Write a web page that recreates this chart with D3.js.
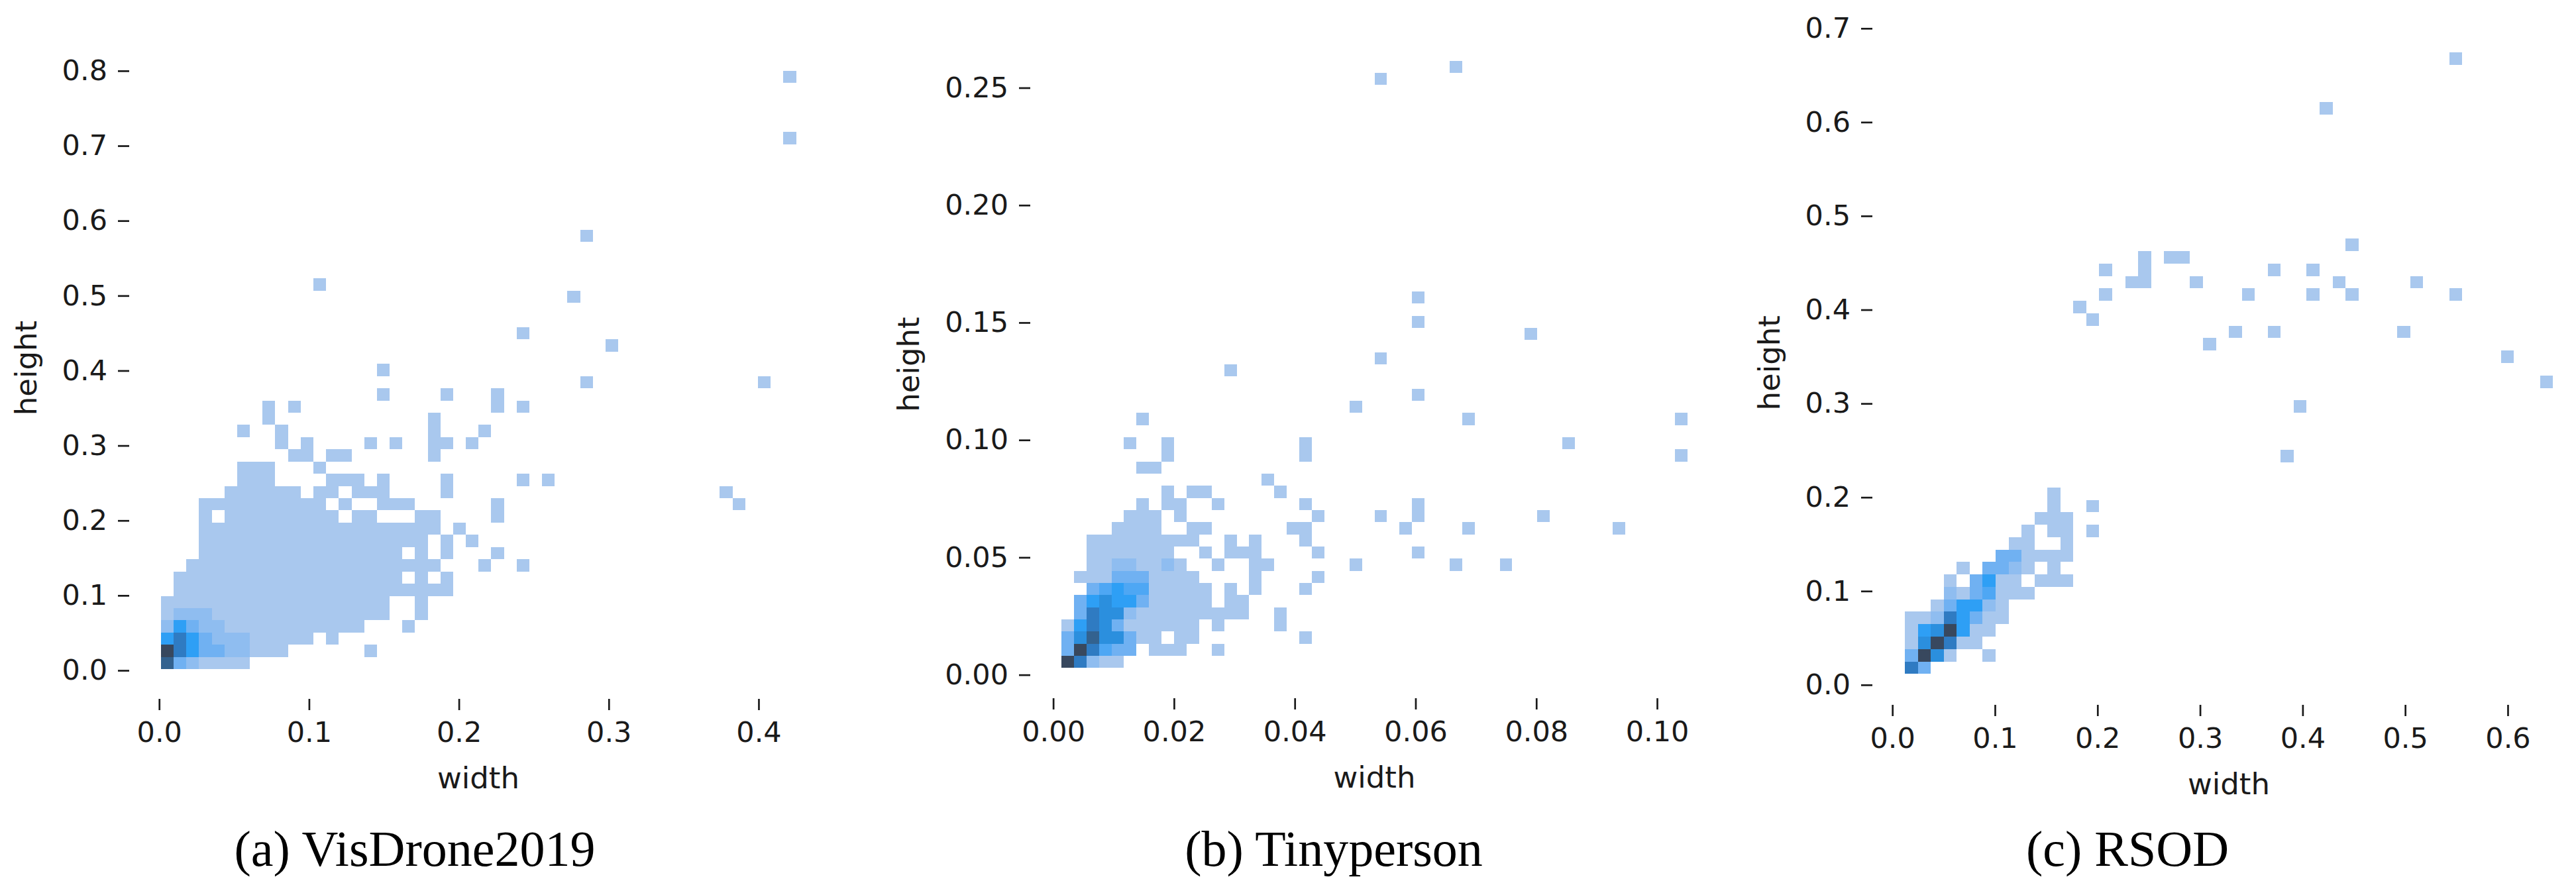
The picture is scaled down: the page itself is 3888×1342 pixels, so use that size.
<!DOCTYPE html>
<html>
<head>
<meta charset="utf-8">
<script src="https://cdn.jsdelivr.net/npm/d3@7"></script>
<style>
  body { margin: 0; background: #fff; }
  svg { display: block; }
</style>
</head>
<body>
<svg id="chart" width="3888" height="1342"></svg>
<script>
// Bivariate histograms of box width/height.
// Each cell run is [row, firstCol, levels]; '.' is an empty bin,
// 1 = fewest boxes (lightest) ... 9 = most boxes (darkest).

// (a) VisDrone2019
const visBinX = [0.0012, 0.008476];   // first edge, bin width
const visBinY = [0.0017, 0.01629];
const visCells = [
  [0, 0, "8321111"],
  [1, 0, "9753322111"], [1, 16, "1"],
  [2, 0, "575322211111"], [2, 13, "1"],
  [3, 0, "2532211111111111"], [3, 19, "1"],
  [4, 0, "122211111111111111"], [4, 20, "1"],
  [5, 0, "111111111111111111"], [5, 20, "1"],
  [6, 1, "1111111111111111111111"],
  [7, 1, "111111111111111111.1.1"],
  [8, 2, "11111111111111111111"], [8, 25, "1"], [8, 28, "1"],
  [9, 3, "1111111111111111.1.1"], [9, 26, "1"],
  [10, 3, "111111111111111111.1"], [10, 24, "1"],
  [11, 3, "1111111111111111111"], [11, 23, "1"],
  [12, 3, "1.111111111.11...11"], [12, 26, "1"],
  [13, 3, "1111111111.1..111"], [13, 26, "1"], [13, 45, "1"],
  [14, 5, "111111.11.111"], [14, 22, "1"], [14, 44, "1"],
  [15, 6, "111....111.1"], [15, 22, "1"], [15, 28, "1"], [15, 30, "1"],
  [16, 6, "111...1"],
  [17, 10, "11.11"], [17, 21, "1"],
  [18, 9, "1.1....1.1..11.1"],
  [19, 6, "1..1"], [19, 21, "1...1"],
  [20, 8, "1"], [20, 21, "1"],
  [21, 8, "1.1"], [21, 26, "1.1"],
  [22, 17, "1"], [22, 22, "1"], [22, 26, "1"],
  [23, 33, "1"], [23, 47, "1"],
  [24, 17, "1"],
  [26, 35, "1"],
  [27, 28, "1"],
  [30, 32, "1"],
  [31, 12, "1"],
  [35, 33, "1"],
  [43, 49, "1"],
  [48, 49, "1"]
];
const visXTicks = [0, 0.1, 0.2, 0.3, 0.4];
const visYTicks = [0, 0.1, 0.2, 0.3, 0.4, 0.5, 0.6, 0.7, 0.8];

// (b) Tinyperson
const tinyBinX = [0.00135, 0.002074];
const tinyBinY = [0.00296, 0.005171];
const tinyCells = [
  [0, 0, "97211"],
  [1, 0, "397433.111..1"],
  [2, 0, "36866311.11"], [2, 19, "1"],
  [3, 0, "15763111111.1"], [3, 17, "1"],
  [4, 1, "37662111111111"], [4, 17, "1"],
  [5, 1, "35655311111.11"],
  [6, 2, "3454411111.1.1"], [6, 19, "1"],
  [7, 1, "1113331111....1"], [7, 20, "1"],
  [8, 2, "11221121..1..11"], [8, 23, "1"], [8, 31, "1"], [8, 35, "1"],
  [9, 2, "1111111..1.111"], [9, 20, "1"], [9, 28, "1"],
  [10, 2, "111111111..1.1"], [10, 19, "1"],
  [11, 4, "1111..11"], [11, 18, "11"], [11, 27, "1"], [11, 32, "1"], [11, 44, "1"],
  [12, 5, "111.1"], [12, 20, "1"], [12, 25, "1"], [12, 28, "1"], [12, 38, "1"],
  [13, 6, "1.11..1"], [13, 19, "1"], [13, 28, "1"],
  [14, 8, "1.11"], [14, 17, "1"],
  [15, 16, "1"],
  [16, 6, "11"],
  [17, 8, "1"], [17, 19, "1"], [17, 49, "1"],
  [18, 5, "1..1"], [18, 19, "1"], [18, 40, "1"],
  [20, 6, "1"], [20, 32, "1"], [20, 49, "1"],
  [21, 23, "1"],
  [22, 28, "1"],
  [24, 13, "1"],
  [25, 25, "1"],
  [27, 37, "1"],
  [28, 28, "1"],
  [30, 28, "1"],
  [48, 25, "1"],
  [49, 31, "1"]
];
const tinyXTicks = [0, 0.02, 0.04, 0.06, 0.08, 0.10];
const tinyYTicks = [0, 0.05, 0.10, 0.15, 0.20, 0.25];

// (c) RSOD
const rsodBinX = [0.0122, 0.012636];
const rsodBinY = [0.0117, 0.013258];
const rsodCells = [
  [0, 0, "73"],
  [1, 0, "3961..1"],
  [2, 0, "169711"],
  [3, 0, "1569511"],
  [4, 0, "11275311"],
  [5, 2, "135521"],
  [6, 3, "2134111"],
  [7, 3, "1.3511.111"],
  [8, 4, "1.3321.1"],
  [9, 7, "331111"],
  [10, 8, "11..1"],
  [11, 9, "1.11.1"],
  [12, 10, "111"],
  [13, 11, "1..1"],
  [14, 11, "1"],
  [17, 29, "1"],
  [21, 30, "1"],
  [23, 49, "1"],
  [25, 46, "1"],
  [26, 23, "1"],
  [27, 25, "1"], [27, 28, "1"], [27, 38, "1"],
  [28, 14, "1"],
  [29, 13, "1"],
  [30, 15, "1"], [30, 26, "1"], [30, 31, "1"], [30, 34, "1"], [30, 42, "1"],
  [31, 17, "11"], [31, 22, "1"], [31, 33, "1"], [31, 39, "1"],
  [32, 15, "1"], [32, 18, "1"], [32, 28, "1"], [32, 31, "1"],
  [33, 18, "1.11"],
  [34, 34, "1"],
  [45, 32, "1"],
  [49, 42, "1"]
];
const rsodXTicks = [0, 0.1, 0.2, 0.3, 0.4, 0.5, 0.6];
const rsodYTicks = [0, 0.1, 0.2, 0.3, 0.4, 0.5, 0.6, 0.7];

// light -> bright -> dark blue ramp (seaborn style count colormap)
const levelDomain = [1, 2, 3, 4, 5, 6, 7, 8, 9];
const levelColors = ['#a9c8ee', '#8fbdf0', '#70b1f2', '#4ea7f4', '#2e9ff5',
                     '#2b8fde', '#2f7bc2', '#33628f', '#38485e'];
const color = d3.scaleLinear().domain(levelDomain).range(levelColors);

const INK = '#1a1a1a';
const TICK_FONT = 43;
const LABEL_FONT = 45;

// axes boxes [left, top, right, bottom] in px and their data limits
const panels = [
  { cells: visCells, binX: visBinX, binY: visBinY, xTicks: visXTicks, yTicks: visYTicks,
    fmtX: '.1f', fmtY: '.1f', caption: '(a) VisDrone2019', capX: 626,
    box: [195, 56, 1249, 1055], xlim: [-0.02, 0.446], ylim: [-0.038, 0.845] },
  { cells: tinyCells, binX: tinyBinX, binY: tinyBinY, xTicks: tinyXTicks, yTicks: tinyYTicks,
    fmtX: '.2f', fmtY: '.2f', caption: '(b) Tinyperson', capX: 2013,
    box: [1555, 46, 2594, 1054], xlim: [-0.0038, 0.1102], ylim: [-0.00997, 0.2744] },
  { cells: rsodCells, binX: rsodBinX, binY: rsodBinY, xTicks: rsodXTicks, yTicks: rsodYTicks,
    fmtX: '.1f', fmtY: '.1f', caption: '(c) RSOD', capX: 3211,
    box: [2826, 31.5, 3902, 1064], xlim: [-0.0195, 0.6756], ylim: [-0.0213, 0.708] }
];

const svg = d3.select('#chart');
svg.append('rect').attr('width', 3888).attr('height', 1342).attr('fill', '#fff');

function styleAxis(g) {
  g.select('.domain').remove();
  g.attr('color', INK);
  g.selectAll('.tick line').attr('stroke-width', 2.7);
  g.selectAll('.tick text')
    .attr('font-family', '"DejaVu Sans", sans-serif')
    .attr('font-size', TICK_FONT);
}

panels.forEach(p => {
  const [left, top, right, bottom] = p.box;
  const x = d3.scaleLinear().domain(p.xlim).range([left, right]);
  const y = d3.scaleLinear().domain(p.ylim).range([bottom, top]);

  // expand the runs into individual bins
  const bins = [];
  p.cells.forEach(([row, col0, s]) => {
    [...s].forEach((ch, i) => {
      if (ch !== '.') bins.push({ row, col: col0 + i, level: +ch });
    });
  });

  const edgeX = c => x(p.binX[0] + c * p.binX[1]);
  const edgeY = r => y(p.binY[0] + r * p.binY[1]);

  const g = svg.append('g');

  g.append('g')
    .attr('shape-rendering', 'crispEdges')
    .selectAll('rect')
    .data(bins)
    .join('rect')
    .attr('x', d => edgeX(d.col))
    .attr('y', d => edgeY(d.row + 1))
    .attr('width', d => edgeX(d.col + 1) - edgeX(d.col))
    .attr('height', d => edgeY(d.row) - edgeY(d.row + 1))
    .attr('fill', d => color(d.level));

  // x axis (no spine, ticks only)
  g.append('g')
    .attr('transform', `translate(0,${bottom})`)
    .call(d3.axisBottom(x).tickValues(p.xTicks).tickFormat(d3.format(p.fmtX))
      .tickSize(17).tickPadding(17))
    .call(styleAxis);

  // y axis
  const yAxis = g.append('g')
    .attr('transform', `translate(${left},0)`)
    .call(d3.axisLeft(y).tickValues(p.yTicks).tickFormat(d3.format(p.fmtY))
      .tickSize(17).tickPadding(16))
    .call(styleAxis);

  // axis titles
  g.append('text')
    .attr('x', (left + right) / 2)
    .attr('y', bottom + 135)
    .attr('text-anchor', 'middle')
    .attr('font-family', '"DejaVu Sans", sans-serif')
    .attr('font-size', LABEL_FONT)
    .attr('fill', INK)
    .text('width');

  const tickLeft = left + yAxis.node().getBBox().x;
  g.append('text')
    .attr('transform', `translate(${tickLeft - 39},${(top + bottom) / 2}) rotate(-90)`)
    .attr('text-anchor', 'middle')
    .attr('font-family', '"DejaVu Sans", sans-serif')
    .attr('font-size', LABEL_FONT)
    .attr('fill', INK)
    .text('height');

  // sub-figure caption
  g.append('text')
    .attr('x', p.capX)
    .attr('y', 1307)
    .attr('text-anchor', 'middle')
    .attr('font-family', '"Times New Roman", "Liberation Serif", serif')
    .attr('font-size', 76)
    .attr('fill', '#000')
    .text(p.caption);
});
</script>
</body>
</html>
